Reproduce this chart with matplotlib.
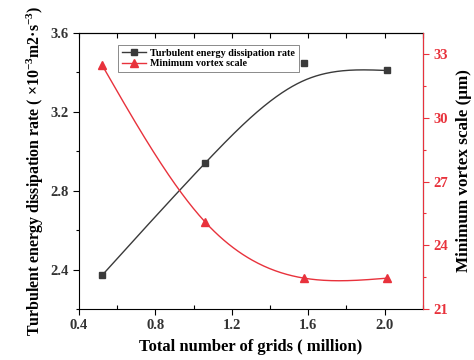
import numpy as np
import matplotlib
matplotlib.use("Agg")
import matplotlib.pyplot as plt

# Data
grids = [0.52, 1.06, 1.58, 2.01]          # million cells
dissipation = [2.37, 2.94, 3.45, 3.41]    # x10^-3 m2 s^-3
vortex = [32.5, 25.1, 22.45, 22.45]       # um
# the black smoothed line in the original misses the 3rd marker
dissipation_curve = [2.37, 2.94, 3.36, 3.41]

plt.rcParams['font.family'] = ['Liberation Serif', 'DejaVu Serif']
plt.rcParams['font.weight'] = 'bold'
plt.rcParams['mathtext.default'] = 'regular'

red = '#e8323c'
dark = '#3a3a3a'


def natural_spline(x, y, xs):
    x = np.asarray(x, float)
    y = np.asarray(y, float)
    n = len(x)
    h = np.diff(x)
    A = np.zeros((n, n))
    b = np.zeros(n)
    A[0, 0] = 1
    A[-1, -1] = 1
    for i in range(1, n - 1):
        A[i, i - 1] = h[i - 1]
        A[i, i] = 2 * (h[i - 1] + h[i])
        A[i, i + 1] = h[i]
        b[i] = 6 * ((y[i + 1] - y[i]) / h[i] - (y[i] - y[i - 1]) / h[i - 1])
    M = np.linalg.solve(A, b)
    k = np.clip(np.searchsorted(x, xs) - 1, 0, n - 2)
    t0 = x[k + 1] - xs
    t1 = xs - x[k]
    hk = h[k]
    return (M[k] * t0 ** 3 + M[k + 1] * t1 ** 3) / (6 * hk) \
        + (y[k] / hk - M[k] * hk / 6) * t0 + (y[k + 1] / hk - M[k + 1] * hk / 6) * t1


fig = plt.figure(figsize=(4.74, 3.6), dpi=100)
ax = fig.add_axes([0.1667, 0.1417, 0.7253, 0.7666])
ax2 = ax.twinx()

xs = np.linspace(grids[0], grids[-1], 300)
ax.plot(xs, natural_spline(grids, dissipation_curve, xs), color=dark, lw=1.0)
ax.plot(grids, dissipation, ls='none', marker='s', ms=5, color=dark)
ax2.plot(xs, natural_spline(grids, vortex, xs), color=red, lw=1.0)
ax2.plot(grids, vortex, ls='none', marker='^', ms=6, color=red)

# legend proxies
h1, = ax.plot([], [], color=dark, lw=1.0, marker='s', ms=5, label='Turbulent energy dissipation rate')
h2, = ax.plot([], [], color=red, lw=1.0, marker='^', ms=6, label='Minimum vortex scale')
leg = ax.legend(handles=[h1, h2], loc='upper left', bbox_to_anchor=(0.1, 0.975),
                prop={'size': 7.3, 'weight': 'bold'}, frameon=True, fancybox=False,
                edgecolor='#555555', handlelength=2.4, borderpad=0.35,
                labelspacing=0.15, handletextpad=0.4)
leg.get_frame().set_linewidth(0.6)

ax.set_xlim(0.4, 2.2)
ax.set_ylim(2.2, 3.6)
ax2.set_ylim(21, 34)
ax.set_xticks([0.4, 0.8, 1.2, 1.6, 2.0])
ax.set_xticks(np.arange(0.6, 2.3, 0.4), minor=True)
ax.set_yticks([2.4, 2.8, 3.2, 3.6])
ax.set_yticks([2.2, 2.6, 3.0, 3.4], minor=True)
ax2.set_yticks([21, 24, 27, 30, 33])
ax2.set_yticks([22.5, 25.5, 28.5, 31.5], minor=True)

ax.tick_params(axis='both', which='major', direction='out', length=4, width=0.8,
               labelsize=10.5, labelcolor='#333333')
ax.tick_params(axis='y', which='minor', direction='out', length=2.5, width=0.8)
ax.tick_params(axis='x', which='minor', direction='in', length=3, width=0.8)
ax2.tick_params(axis='y', which='major', direction='out', length=4, width=0.8,
                colors=red, labelsize=10.5)
ax2.tick_params(axis='y', which='minor', direction='out', length=2.5, width=0.8, colors=red)
ax2.spines['right'].set_color(red)
for sp in ax.spines.values():
    sp.set_linewidth(0.8)
ax2.spines['right'].set_linewidth(0.8)
for sp in ['left', 'top', 'bottom']:
    ax2.spines[sp].set_visible(False)

# top axis: ticks every 0.2 pointing inward, no labels
top = ax.secondary_xaxis('top')
top.set_xticks(np.arange(0.4, 2.21, 0.2))
top.tick_params(direction='in', length=3.5, width=0.8, labeltop=False)
top.spines['top'].set_linewidth(0.8)

ax.set_xlabel('Total number of grids ( million)', fontsize=12, fontweight='bold', labelpad=5)
ax.set_ylabel('Turbulent energy dissipation rate ( $\\times$10$^{-3}$m2·s$^{-3}$)',
              fontsize=11.4, fontweight='bold', labelpad=3)
ax2.set_ylabel('Minimum vortex scale (μm)', fontsize=12.3, fontweight='bold', labelpad=6)

fig.savefig('out.png', dpi=100)
